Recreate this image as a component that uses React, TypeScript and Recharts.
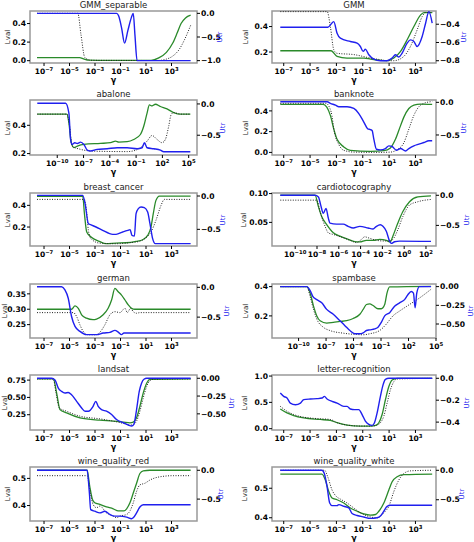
import { LineChart, Line, XAxis, YAxis, ReferenceArea } from "recharts";

// x values are log10(gamma); each series is [log10 gamma, value]
const XT_STD = [-7, -5, -3, -1, 1, 3];
const XT_WIDE = [-10, -7, -4, -1, 2, 5];
const XT_CARDIO = [-10, -8, -6, -4, -2, 0, 2];

const GMM_SEP_LVAL = [[-7.55, 0.033], [-4.2, 0.033], [-3.9, 0.02], [-3.5, 0.005], [-2, 0.003], [1.4, 0.003], [2.0, 0.03], [2.6, 0.09], [3.1, 0.19], [3.45, 0.3], [3.75, 0.4], [4.1, 0.46], [4.5, 0.49]];
const GMM_SEP_LREF = [[-7.55, 0.51], [-4.35, 0.51], [-4.1, 0.28], [-3.8, 0.035], [-3.3, 0.004], [1.9, 0.002], [2.6, 0.017], [3.1, 0.05], [3.6, 0.12], [4.0, 0.22], [4.5, 0.38]];
const GMM_SEP_UTR = [[-7.55, 0], [-1.3, 0], [-1.15, -0.05], [-0.92, -0.3], [-0.68, -0.63], [-0.42, -0.36], [-0.15, -0.09], [0, 0], [0.13, -0.45], [0.3, -1.0], [4.5, -1.0]];

const GMM_LVAL = [[-7.26, 0.21], [-3.4, 0.21], [-2.95, 0.166], [-2.2, 0.153], [-0.9, 0.153], [-0.4, 0.145], [0.35, 0.135], [0.85, 0.132], [1.36, 0.153], [1.87, 0.205], [2.37, 0.296], [2.88, 0.4], [3.38, 0.49], [3.64, 0.51], [4.27, 0.51]];
const GMM_LREF = [[-7.26, 0.517], [-3.7, 0.517], [-3.46, 0.4], [-3.2, 0.218], [-2.95, 0.19], [-1.68, 0.18], [-0.42, 0.153], [0.34, 0.14], [0.85, 0.132], [1.36, 0.132], [2.12, 0.166], [2.62, 0.244], [3.13, 0.374], [3.51, 0.478], [3.77, 0.51], [4.27, 0.51]];
const GMM_UTR = [[-7.26, -0.433], [-3.65, -0.433], [-3.2, -0.371], [-2.95, -0.498], [-2.7, -0.553], [-1.94, -0.589], [-1.43, -0.607], [-1.18, -0.644], [-0.97, -0.698], [-0.8, -0.673], [-0.54, -0.735], [-0.16, -0.782], [0.34, -0.8], [0.85, -0.8], [1.23, -0.771], [1.48, -0.735], [1.74, -0.76], [1.99, -0.716], [2.37, -0.607], [2.62, -0.571], [2.88, -0.589], [3.13, -0.644], [3.51, -0.535], [3.77, -0.389], [4.02, -0.262], [4.27, -0.389]];

const ABALONE_LVAL = [[-12.28, 0.479], [-8.9, 0.479], [-8.67, 0.416], [-8.4, 0.277], [-8.1, 0.242], [-7.7, 0.253], [-6.96, 0.265], [-5.06, 0.272], [-3.92, 0.277], [-3.35, 0.288], [-2.97, 0.281], [-2.02, 0.284], [-1.27, 0.3], [-0.51, 0.335], [-0.13, 0.393], [0.25, 0.486], [0.52, 0.544], [0.82, 0.537], [1.2, 0.549], [1.77, 0.533], [2.53, 0.516], [3.29, 0.49], [4.05, 0.479], [5.19, 0.479]];
const ABALONE_LREF = [[-12.28, 0.479], [-8.9, 0.479], [-8.6, 0.4], [-8.3, 0.253], [-7.34, 0.23], [-6.6, 0.221], [-5.06, 0.216], [-2.02, 0.214], [-1.08, 0.223], [-0.51, 0.242], [0.25, 0.288], [0.82, 0.328], [1.39, 0.3], [1.96, 0.277], [2.34, 0.3], [2.72, 0.393], [2.99, 0.474], [3.29, 0.49], [4.05, 0.479], [5.19, 0.479]];
const ABALONE_UTR = [[-12.28, 0.011], [-9.05, 0.011], [-8.67, -0.147], [-8.48, -0.568], [-8.29, -0.647], [-8.0, -0.621], [-7.72, -0.632], [-7.34, -0.611], [-6.96, -0.647], [-6.58, -0.737], [-6.2, -0.753], [-5.44, -0.726], [-4.3, -0.716], [-3.16, -0.7], [-2.02, -0.7], [-0.89, -0.716], [-0.32, -0.7], [-0.05, -0.621], [0.25, -0.7], [1.01, -0.716], [1.77, -0.737], [2.15, -0.763], [5.19, -0.763]];

const BANKNOTE_LVAL = [[-7.26, 0.463], [-4.0, 0.463], [-3.46, 0.357], [-3.2, 0.225], [-2.95, 0.126], [-2.44, 0.053], [-1.94, 0.02], [-0.42, 0.01], [0.6, 0.017], [1.1, 0.043], [1.48, 0.126], [1.87, 0.258], [2.12, 0.34], [2.5, 0.423], [2.88, 0.456], [3.38, 0.466], [4.27, 0.463]];
const BANKNOTE_LREF = [[-7.26, 0.473], [-3.8, 0.473], [-3.4, 0.39], [-3.15, 0.192], [-2.82, 0.076], [-2.44, 0.02], [-1.68, 0.003], [0.08, 0.0], [1.1, 0.003], [1.61, 0.026], [2.12, 0.093], [2.5, 0.225], [2.88, 0.357], [3.26, 0.44], [3.64, 0.473], [4.27, 0.49]];
const BANKNOTE_UTR = [[-7.26, 0.01], [-3.7, 0.01], [-3.46, -0.016], [-3.07, -0.042], [-2.82, -0.068], [-2.19, -0.068], [-1.68, -0.094], [-1.3, -0.172], [-0.92, -0.302], [-0.62, -0.406], [-0.42, -0.417], [-0.29, -0.432], [-0.16, -0.563], [0.04, -0.719], [0.34, -0.729], [0.72, -0.708], [0.98, -0.667], [1.23, -0.677], [1.56, -0.734], [1.87, -0.708], [2.25, -0.745], [2.5, -0.708], [2.88, -0.667], [3.26, -0.641], [3.64, -0.615], [4.02, -0.589], [4.27, -0.589]];

const BREAST_LVAL = [[-7.55, 0.483], [-3.96, 0.483], [-3.83, 0.323], [-3.65, 0.154], [-3.31, 0.108], [-2.66, 0.068], [-2.14, 0.046], [-1.35, 0.052], [-0.57, 0.055], [0.22, 0.068], [0.74, 0.083], [1.13, 0.123], [1.39, 0.2], [1.57, 0.323], [1.78, 0.446], [2.05, 0.486], [4.5, 0.486]];
const BREAST_LREF = [[-7.55, 0.455], [-3.83, 0.455], [-3.7, 0.385], [-3.52, 0.169], [-3.31, 0.092], [-2.66, 0.052], [-1.35, 0.046], [-0.3, 0.055], [0.48, 0.068], [1.0, 0.102], [1.39, 0.154], [1.78, 0.262], [2.18, 0.4], [2.44, 0.455], [4.5, 0.455]];
const BREAST_UTR = [[-7.55, 0.01], [-3.96, 0.01], [-3.78, -0.115], [-3.52, -0.415], [-3.35, -0.43], [-2.92, -0.465], [-2.4, -0.515], [-1.61, -0.575], [-1.35, -0.575], [-0.83, -0.54], [-0.43, -0.515], [-0.25, -0.505], [-0.1, -0.59], [0.09, -0.6], [0.22, -0.265], [0.4, -0.19], [0.61, -0.165], [0.87, -0.175], [1.13, -0.24], [1.31, -0.415], [1.52, -0.64], [1.73, -0.715], [2.05, -0.715], [4.5, -0.715]];

const CARDIO_LVAL = [[-11.37, 0.0972], [-8.18, 0.0972], [-7.87, 0.0773], [-7.57, 0.0602], [-7.11, 0.046], [-6.5, 0.0318], [-5.9, 0.0261], [-5.14, 0.0205], [-4.53, 0.0165], [-4.07, 0.016], [-3.47, 0.0188], [-2.86, 0.0188], [-2.25, 0.0205], [-1.64, 0.0188], [-1.28, 0.016], [-1.04, 0.0261], [-0.58, 0.0489], [-0.12, 0.0688], [0.49, 0.0858], [1.25, 0.0943], [2.46, 0.096]];
const CARDIO_LREF = [[-11.37, 0.0886], [-8.02, 0.0886], [-7.72, 0.0688], [-7.26, 0.0432], [-6.96, 0.0318], [-6.5, 0.029], [-5.59, 0.0233], [-4.83, 0.0177], [-4.38, 0.0148], [-3.92, 0.0205], [-3.62, 0.025], [-3.31, 0.0233], [-2.86, 0.0205], [-1.95, 0.0177], [-1.34, 0.0177], [-1.04, 0.0205], [-0.58, 0.0375], [-0.12, 0.0602], [0.49, 0.0801], [1.25, 0.0858], [2.46, 0.0898]];
const CARDIO_UTR = [[-11.37, 0], [-8.18, 0], [-7.87, -0.027], [-7.66, -0.163], [-7.42, -0.299], [-7.17, -0.217], [-6.96, -0.38], [-6.81, -0.462], [-6.2, -0.478], [-5.59, -0.478], [-5.14, -0.516], [-4.68, -0.543], [-4.07, -0.516], [-3.31, -0.543], [-2.86, -0.56], [-2.55, -0.516], [-2.19, -0.489], [-1.95, -0.516], [-1.64, -0.598], [-1.34, -0.761], [-1.19, -0.799], [-0.88, -0.772], [-0.42, -0.761], [2.46, -0.766]];

const GERMAN_LVAL = [[-7.55, 0.3], [-4.84, 0.3], [-4.57, 0.311], [-4.31, 0.303], [-4.05, 0.282], [-3.67, 0.271], [-3.15, 0.266], [-2.88, 0.268], [-2.36, 0.282], [-1.97, 0.303], [-1.7, 0.33], [-1.44, 0.368], [-1.18, 0.357], [-0.92, 0.346], [-0.65, 0.33], [-0.39, 0.314], [-0.13, 0.303], [0.13, 0.3], [4.5, 0.3]];
const GERMAN_LREF = [[-7.55, 0.289], [-4.7, 0.289], [-4.44, 0.276], [-4.18, 0.249], [-3.93, 0.228], [-3.54, 0.217], [-2.88, 0.217], [-2.62, 0.225], [-2.23, 0.249], [-1.83, 0.282], [-1.44, 0.292], [-1.05, 0.289], [-0.65, 0.303], [-0.47, 0.289], [-0.21, 0.303], [0, 0.292], [0.26, 0.287], [0.52, 0.289], [4.5, 0.289]];
const GERMAN_UTR = [[-7.55, 0.01], [-5.62, 0.01], [-5.36, -0.044], [-5.1, -0.183], [-4.84, -0.489], [-4.57, -0.656], [-4.18, -0.739], [-3.67, -0.794], [-2.88, -0.794], [-2.36, -0.767], [-1.83, -0.756], [-1.44, -0.722], [-1.18, -0.75], [-0.92, -0.794], [-0.73, -0.767], [4.5, -0.767]];

const SPAM_LVAL = [[-12, 0.4], [-9.1, 0.4], [-8.74, 0.356], [-8.37, 0.267], [-8.01, 0.2], [-7.65, 0.167], [-6.93, 0.151], [-6.21, 0.156], [-5.48, 0.162], [-4.76, 0.167], [-4.04, 0.182], [-3.31, 0.211], [-2.95, 0.244], [-2.59, 0.278], [-2.23, 0.282], [-1.87, 0.271], [-1.33, 0.249], [-0.97, 0.249], [-0.6, 0.278], [-0.35, 0.356], [-0.06, 0.398], [4.46, 0.402]];
const SPAM_LREF = [[-12, 0.4], [-9.1, 0.4], [-8.74, 0.333], [-8.37, 0.244], [-8.01, 0.178], [-7.29, 0.122], [-6.57, 0.1], [-5.12, 0.082], [-3.68, 0.073], [-2.95, 0.071], [-2.23, 0.078], [-1.15, 0.1], [-0.42, 0.144], [0.3, 0.2], [1.02, 0.233], [2.11, 0.278], [3.19, 0.322], [4.46, 0.382]];
const SPAM_UTR = [[-12, 0], [-9.1, 0], [-8.74, -0.052], [-8.45, -0.13], [-8.01, -0.174], [-7.47, -0.217], [-6.93, -0.304], [-6.21, -0.37], [-5.48, -0.457], [-4.94, -0.522], [-4.4, -0.587], [-3.86, -0.63], [-3.31, -0.63], [-2.95, -0.617], [-2.59, -0.587], [-2.23, -0.578], [-1.69, -0.565], [-1.33, -0.543], [-0.97, -0.478], [-0.6, -0.391], [-0.06, -0.348], [0.48, -0.261], [1.02, -0.217], [1.57, -0.174], [1.93, -0.109], [2.29, -0.065], [2.54, -0.087], [2.72, -0.283], [2.9, -0.087], [3.19, 0], [4.46, 0]];

const LANDSAT_LVAL = [[-7.55, 0.767], [-6.27, 0.767], [-6.01, 0.562], [-5.75, 0.324], [-5.23, 0.276], [-4.18, 0.205], [-2.62, 0.171], [-1.57, 0.157], [-0.78, 0.143], [-0.26, 0.133], [0, 0.143], [0.26, 0.205], [0.52, 0.371], [0.78, 0.562], [1.05, 0.705], [1.31, 0.762], [4.5, 0.767]];
const LANDSAT_LREF = [[-7.55, 0.767], [-6.27, 0.767], [-6.06, 0.562], [-5.8, 0.348], [-5.23, 0.3], [-4.18, 0.229], [-2.62, 0.19], [-1.57, 0.157], [-0.78, 0.124], [-0.26, 0.1], [0, 0.11], [0.26, 0.157], [0.52, 0.3], [0.78, 0.49], [1.05, 0.657], [1.31, 0.743], [1.57, 0.762], [4.5, 0.767]];
const LANDSAT_UTR = [[-7.55, 0], [-6.4, 0], [-6.14, -0.023], [-5.88, -0.139], [-5.62, -0.185], [-5.36, -0.208], [-5.1, -0.199], [-4.84, -0.231], [-4.44, -0.324], [-4.05, -0.417], [-3.78, -0.463], [-3.52, -0.463], [-3.15, -0.394], [-2.94, -0.324], [-2.75, -0.394], [-2.49, -0.44], [-2.1, -0.463], [-1.7, -0.509], [-1.31, -0.579], [-0.78, -0.625], [-0.39, -0.657], [-0.13, -0.671], [0.05, -0.648], [0.26, -0.44], [0.47, -0.185], [0.65, -0.069], [0.84, -0.014], [1.05, 0], [4.5, 0]];

const LETTER_LVAL = [[-7.26, 0.375], [-6.75, 0.3], [-6.24, 0.25], [-5.48, 0.206], [-4.22, 0.175], [-3.46, 0.156], [-2.95, 0.113], [-2.19, 0.069], [-1.18, 0.05], [-0.42, 0.05], [-0.03, 0.0625], [0.22, 0.113], [0.47, 0.269], [0.72, 0.55], [0.98, 0.8], [1.23, 0.925], [1.61, 0.956], [4.27, 0.956]];
const LETTER_LREF = [[-7.26, 0.425], [-6.75, 0.331], [-6.24, 0.269], [-5.48, 0.219], [-4.22, 0.188], [-3.46, 0.175], [-2.95, 0.113], [-2.19, 0.069], [-1.18, 0.05], [-0.29, 0.05], [0.09, 0.069], [0.34, 0.113], [0.6, 0.238], [0.85, 0.488], [1.1, 0.738], [1.36, 0.894], [1.61, 0.944], [4.27, 0.956]];
const LETTER_UTR = [[-7.26, -0.135], [-7.0, -0.165], [-6.75, -0.18], [-6.5, -0.226], [-6.11, -0.241], [-5.73, -0.226], [-5.48, -0.195], [-4.98, -0.189], [-4.47, -0.186], [-4.09, -0.18], [-3.91, -0.165], [-3.71, -0.189], [-3.33, -0.211], [-2.95, -0.226], [-2.44, -0.256], [-2.19, -0.256], [-1.94, -0.28], [-1.63, -0.286], [-1.3, -0.286], [-1.05, -0.331], [-0.8, -0.391], [-0.54, -0.421], [-0.29, -0.43], [-0.11, -0.406], [0.09, -0.316], [0.34, -0.165], [0.54, -0.06], [0.72, -0.009], [0.98, 0], [4.27, 0]];

const RED_LVAL = [[-7.55, 0.53], [-3.62, 0.53], [-3.41, 0.47], [-3.2, 0.422], [-3.02, 0.41], [-2.62, 0.404], [-2.1, 0.395], [-1.57, 0.388], [-1.18, 0.38], [-0.73, 0.38], [-0.52, 0.388], [-0.26, 0.41], [0, 0.446], [0.26, 0.482], [0.52, 0.518], [0.78, 0.528], [1.31, 0.53], [4.5, 0.53]];
const RED_LREF = [[-7.55, 0.51], [-3.62, 0.51], [-3.41, 0.458], [-3.15, 0.404], [-2.88, 0.392], [-2.62, 0.398], [-2.1, 0.373], [-1.57, 0.361], [-1.31, 0.355], [-1.05, 0.361], [-0.52, 0.367], [-0.26, 0.38], [0, 0.41], [0.26, 0.452], [0.52, 0.476], [0.91, 0.482], [1.31, 0.494], [2.1, 0.506], [3.14, 0.51], [4.5, 0.51]];
const RED_UTR = [[-7.55, 0], [-3.62, 0], [-3.44, -0.398], [-3.34, -0.682], [-3.02, -0.71], [-2.62, -0.739], [-2.23, -0.71], [-1.83, -0.767], [-1.44, -0.795], [-1.05, -0.795], [-0.52, -0.813], [-0.13, -0.841], [0, -0.824], [0.26, -0.739], [0.52, -0.636], [0.78, -0.597], [1.31, -0.597], [4.5, -0.597]];

const WHITE_LVAL = [[-7.26, 0.548], [-4.1, 0.548], [-3.84, 0.528], [-3.58, 0.489], [-3.33, 0.467], [-2.95, 0.461], [-2.44, 0.45], [-1.94, 0.433], [-1.43, 0.422], [-0.92, 0.413], [-0.42, 0.409], [-0.03, 0.411], [0.22, 0.422], [0.6, 0.45], [0.98, 0.494], [1.23, 0.522], [1.61, 0.539], [2.12, 0.546], [4.27, 0.548]];
const WHITE_LREF = [[-7.26, 0.561], [-3.9, 0.561], [-3.66, 0.539], [-3.33, 0.494], [-3.0, 0.472], [-2.69, 0.463], [-2.19, 0.45], [-1.68, 0.433], [-1.18, 0.417], [-0.67, 0.406], [0.09, 0.4], [0.6, 0.417], [0.98, 0.439], [1.36, 0.489], [1.74, 0.528], [2.12, 0.55], [2.62, 0.559], [4.27, 0.561]];
const WHITE_UTR = [[-7.26, 0], [-4.1, 0], [-3.92, -0.056], [-3.71, -0.278], [-3.51, -0.556], [-3.33, -0.6], [-2.95, -0.6], [-2.82, -0.583], [-2.44, -0.611], [-2.06, -0.639], [-1.81, -0.733], [-1.43, -0.767], [-0.92, -0.794], [-0.42, -0.817], [0.09, -0.806], [0.34, -0.778], [0.6, -0.694], [0.85, -0.611], [1.1, -0.594], [4.27, -0.594]];

const GREEN = "#2a8a2a";
const BLUE = "#1f1fee";
const FRAME = "#999";

const X_LEFT = [-8.1, 5.0];
const X_RIGHT = [-7.89, 4.56];

const PANELS = [
  { title: "GMM_separable", xd: X_LEFT, xt: XT_STD, ld: [-0.025, 0.535], lt: [0, 0.2, 0.4], lf: 1, rd: [-1.05, 0.05], rt: [-1, -0.5, 0], rf: 1, g: GMM_SEP_LVAL, d: GMM_SEP_LREF, b: GMM_SEP_UTR, utrDx: 23, lvalX: 8 },
  { title: "GMM", xd: X_RIGHT, xt: XT_STD, ld: [0.114, 0.522], lt: [0.2, 0.4], lf: 1, rd: [-0.825, -0.255], rt: [-0.8, -0.6, -0.4], rf: 1, g: GMM_LVAL, d: GMM_LREF, b: GMM_UTR, utrDx: 28, lvalX: 246 },
  { title: "abalone", xd: [-13.11, 5.95], xt: XT_WIDE, ld: [0.19, 0.579], lt: [0.2, 0.4], lf: 1, rd: [-0.816, 0.063], rt: [-0.5, 0], rf: 1, g: ABALONE_LVAL, d: ABALONE_LREF, b: ABALONE_UTR, utrDx: 26, lvalX: 8 },
  { title: "banknote", xd: X_RIGHT, xt: XT_STD, ld: [-0.025, 0.505], lt: [0, 0.2, 0.4], lf: 1, rd: [-0.807, 0.036], rt: [-0.5, 0], rf: 1, g: BANKNOTE_LVAL, d: BANKNOTE_LREF, b: BANKNOTE_UTR, utrDx: 28, lvalX: 246 },
  { title: "breast_cancer", xd: X_LEFT, xt: XT_STD, ld: [0.025, 0.514], lt: [0.2, 0.4], lf: 1, rd: [-0.75, 0.045], rt: [-0.5, 0], rf: 1, g: BREAST_LVAL, d: BREAST_LREF, b: BREAST_UTR, utrDx: 26, lvalX: 8 },
  { title: "cardiotocography", xd: [-12.13, 2.92], xt: XT_CARDIO, ld: [0.009, 0.101], lt: [0.05, 0.1], lf: 2, rd: [-0.842, 0.038], rt: [-0.5, 0], rf: 1, g: CARDIO_LVAL, d: CARDIO_LREF, b: CARDIO_UTR, utrDx: 31, lvalX: 244 },
  { title: "german", xd: X_LEFT, xt: XT_STD, ld: [0.2065, 0.382], lt: [0.25, 0.3, 0.35], lf: 2, rd: [-0.85, 0.056], rt: [-0.5, 0], rf: 1, g: GERMAN_LVAL, d: GERMAN_LREF, b: GERMAN_UTR, utrDx: 30, lvalX: 5 },
  { title: "spambase", xd: [-12.9, 5.0], xt: XT_WIDE, ld: [0.049, 0.418], lt: [0.2, 0.4], lf: 1, rd: [-0.687, 0.035], rt: [-0.5, -0.25, 0], rf: 2, g: SPAM_LVAL, d: SPAM_LREF, b: SPAM_UTR, utrDx: 35, lvalX: 246 },
  { title: "landsat", xd: X_LEFT, xt: XT_STD, ld: [0.029, 0.824], lt: [0.25, 0.5, 0.75], lf: 2, rd: [-0.727, 0.046], rt: [-0.5, -0.25, 0], rf: 2, g: LANDSAT_LVAL, d: LANDSAT_LREF, b: LANDSAT_UTR, utrDx: 35, lvalX: 5 },
  { title: "letter-recognition", xd: X_RIGHT, xt: XT_STD, ld: [-0.025, 1.02], lt: [0, 0.5, 1], lf: 1, rd: [-0.472, 0.03], rt: [-0.4, -0.2, 0], rf: 1, g: LETTER_LVAL, d: LETTER_LREF, b: LETTER_UTR, utrDx: 31, lvalX: 245 },
  { title: "wine_quality_red", xd: X_LEFT, xt: XT_STD, ld: [0.343, 0.542], lt: [0.4, 0.5], lf: 1, rd: [-0.88, 0.057], rt: [-0.5, 0], rf: 1, g: RED_LVAL, d: RED_LREF, b: RED_UTR, utrDx: 24, lvalX: 8 },
  { title: "wine_quality_white", xd: X_RIGHT, xt: XT_STD, ld: [0.389, 0.572], lt: [0.4, 0.5], lf: 1, rd: [-0.861, 0.056], rt: [-0.5, 0], rf: 1, g: WHITE_LVAL, d: WHITE_LREF, b: WHITE_UTR, utrDx: 26, lvalX: 245 },
];

const ROW_TOP = [11, 100, 193, 284, 375, 467];
const ROW_H = [52, 55, 53, 54, 55, 54];
const COL_X = [30, 272];
const COL_W = [167, 164];
const YL = 30;
const YR = 40;
const XH = 26;
const MT = 7;

const pts = (a: number[][]) => a.map(([x, y]) => ({ x, y }));
const fmt = (v: number, d: number) => v.toFixed(d).replace("-", "\u2212");

const XTick = (props: any) => {
  const { x, y, payload } = props;
  const e = Math.round(payload.value);
  const s = e < 0 ? "\u2212" + Math.abs(e) : String(e);
  return (
    <text x={x} y={y + 6} textAnchor="middle" fontSize={7.5} fontWeight="bold" fill="#000">
      10<tspan dy={-3.3} fontSize={5.3}>{s}</tspan>
    </text>
  );
};

const vlabel = (text: string, x: number, y: number, color: string) => (
  <div
    style={{
      position: "absolute", left: x, top: y, transform: "translate(-50%,-50%) rotate(-90deg)",
      fontSize: 7, color, whiteSpace: "nowrap", lineHeight: "8px",
    }}
  >
    {text}
  </div>
);

function Panel({ p, idx }: { p: any; idx: number }) {
  const col = idx % 2;
  const row = Math.floor(idx / 2);
  const px = COL_X[col];
  const pw = COL_W[col];
  const py = ROW_TOP[row];
  const ph = ROW_H[row];
  const tickStyle = { fontSize: 7.6, fontWeight: 700, fill: "#000" };
  return (
    <>
      <div style={{ position: "absolute", left: px, width: pw, top: py - 10, textAlign: "center", fontSize: 8.5, lineHeight: "9px", color: "#222", whiteSpace: "nowrap" }}>
        {p.title}
      </div>
      <div style={{ position: "absolute", left: px - YL, top: py - MT }}>
        <LineChart width={YL + pw + YR} height={ph + XH + MT} margin={{ top: MT, right: 0, bottom: 0, left: 0 }}>
          <XAxis
            type="number" dataKey="x" domain={p.xd} ticks={p.xt} allowDataOverflow interval={0}
            height={XH} axisLine={false} tickSize={3} tickLine={{ stroke: "#000" }}
            tick={(t: any) => <XTick {...t} />}
          />
          <YAxis
            yAxisId="l" type="number" domain={p.ld} ticks={p.lt} allowDataOverflow interval={0}
            width={YL} axisLine={false} tickSize={3} tickMargin={1} tickLine={{ stroke: "#000" }}
            tick={tickStyle} tickFormatter={(v: number) => fmt(v, p.lf)}
          />
          <YAxis
            yAxisId="r" orientation="right" type="number" domain={p.rd} ticks={p.rt} allowDataOverflow interval={0}
            width={YR} axisLine={false} tickSize={3} tickMargin={1} tickLine={{ stroke: "#000" }}
            tick={tickStyle} tickFormatter={(v: number) => fmt(v, p.rf)}
          />
          <ReferenceArea
            yAxisId="l" x1={p.xd[0]} x2={p.xd[1]} y1={p.ld[0]} y2={p.ld[1]}
            fill="none" stroke={FRAME} strokeWidth={1.5} ifOverflow="visible"
          />
          <Line yAxisId="l" data={pts(p.g)} dataKey="y" type="monotone" stroke={GREEN} strokeWidth={1.3} dot={false} isAnimationActive={false} />
          <Line yAxisId="l" data={pts(p.d)} dataKey="y" type="monotone" stroke="#222" strokeWidth={1} strokeDasharray="1 1.5" dot={false} isAnimationActive={false} />
          <Line yAxisId="r" data={pts(p.b)} dataKey="y" type="monotone" stroke={BLUE} strokeWidth={1.4} dot={false} isAnimationActive={false} />
        </LineChart>
      </div>
      {vlabel("Lval", p.lvalX, py + ph / 2, "#222")}
      {vlabel("Utr", px + pw + p.utrDx, py + ph / 2, "#2222ee")}
      <div style={{ position: "absolute", left: px, width: pw, top: py + ph + 14, textAlign: "center", fontSize: 8, fontWeight: 700, lineHeight: "7px" }}>
        γ
      </div>
    </>
  );
}

export default function App() {
  return (
    <div style={{ position: "absolute", left: 0, top: 0, width: 474, height: 542, background: "#fff", fontFamily: "'DejaVu Sans', sans-serif", overflow: "hidden" }}>
      {PANELS.map((p, i) => (
        <Panel key={p.title} p={p} idx={i} />
      ))}
    </div>
  );
}
